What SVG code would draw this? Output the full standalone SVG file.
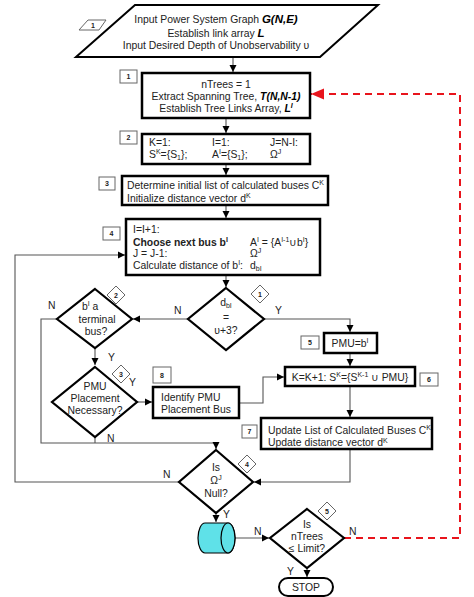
<svg xmlns="http://www.w3.org/2000/svg" width="474" height="597" viewBox="0 0 474 597">
<defs>
<marker id="ah" markerWidth="8" markerHeight="8" refX="7" refY="4" orient="auto" markerUnits="userSpaceOnUse"><path d="M0,0.5 L7,4 L0,7.5 Z" fill="#000"/></marker>
<marker id="ahr" markerWidth="14" markerHeight="12" refX="13" refY="6" orient="auto" markerUnits="userSpaceOnUse"><path d="M0,0.5 L13,6 L0,11.5 Z" fill="#e8141c"/></marker>
<style>
.box{fill:#fff;stroke:#000;stroke-width:2.5}
.dia{fill:#fff;stroke:#000;stroke-width:2.2}
.bd{fill:#fff;stroke:#666;stroke-width:1}
.c{fill:none;stroke:#555;stroke-width:1.1}
.t{font-family:"Liberation Sans",Arial,"DejaVu Sans",sans-serif;font-size:10.4px;fill:#222}
.m{text-anchor:middle}
.b{font-family:"Liberation Sans",Arial,sans-serif;font-size:7px;font-weight:bold;fill:#222;text-anchor:middle}
.bi{font-weight:bold;font-style:italic;fill:#000}
.s{font-size:7px}
</style>
</defs>
<rect width="474" height="597" fill="#fff"/>

<g id="connectors">
<path class="c" d="M233,57 V72" marker-end="url(#ah)"/>
<path class="c" d="M226,118 V133" marker-end="url(#ah)"/>
<path class="c" d="M226,164 V175" marker-end="url(#ah)"/>
<path class="c" d="M226,205 V218" marker-end="url(#ah)"/>
<path class="c" d="M226,275 V287" marker-end="url(#ah)"/>
<path class="c" d="M188,319 H133" marker-end="url(#ah)"/>
<path class="c" d="M264,319 H350 V332" marker-end="url(#ah)"/>
<path class="c" d="M350,353 V366" marker-end="url(#ah)"/>
<path class="c" d="M95,348 V365" marker-end="url(#ah)"/>
<path class="c" d="M137,402 H152" marker-end="url(#ah)"/>
<path class="c" d="M239,403 H263 V377 H284" marker-end="url(#ah)"/>
<path class="c" d="M350,386 V417" marker-end="url(#ah)"/>
<path class="c" d="M350,449 V482 H254" marker-end="url(#ah)"/>
<path class="c" d="M57,319 H41 V443 H216 V449" marker-end="url(#ah)"/>
<path class="c" d="M95,437 V443"/>
<path class="c" d="M179,482 H15 V255 H125" marker-end="url(#ah)"/>
<path class="c" d="M216,512 V522" marker-end="url(#ah)"/>
<path class="c" d="M235,538 H269" marker-end="url(#ah)"/>
<path class="c" d="M307,568 V577" marker-end="url(#ah)"/>
<path d="M344,538 H460 V94 H311" fill="none" stroke="#e8141c" stroke-width="2" stroke-dasharray="7,5" marker-end="url(#ahr)"/>
<text class="t" x="108" y="361">Y</text>
<text class="t" x="48" y="309">N</text>
<text class="t" x="174" y="314">N</text>
<text class="t" x="275" y="314">Y</text>
<text class="t" x="107" y="442">N</text>
<text class="t" x="163" y="478">N</text>
<text class="t" x="223" y="518">Y</text>
<text class="t" x="254" y="535">N</text>
<text class="t" x="349" y="535">N</text>
<text class="t" x="287" y="575">Y</text>
</g>

<g id="input">
<polygon points="135,5 378,5 320,57 76,57" fill="#fff" stroke="#000" stroke-width="2"/>
<polygon class="bd" points="88,20 106,20 99,30 79,30"/>
<text class="b" x="93" y="28">1</text>
<text class="t m" x="216" y="23">Input Power System Graph <tspan class="bi" font-size="11.5">G(N,E)</tspan></text>
<text class="t m" x="216" y="37">Establish link array <tspan class="bi" font-size="11.5">L</tspan></text>
<text class="t m" x="216" y="49">Input Desired Depth of Unobservability υ</text>
</g>

<g id="box1">
<rect class="bd" x="120" y="70" width="17" height="13"/>
<text class="b" x="128.5" y="79">1</text>
<rect class="box" x="142" y="73" width="168" height="45"/>
<text class="t m" x="226" y="88">nTrees = 1</text>
<text class="t m" x="226" y="100">Extract Spanning Tree, <tspan class="bi">T(N,N-1)</tspan></text>
<text class="t m" x="226" y="112">Establish Tree Links Array, <tspan class="bi">L</tspan><tspan class="bi s" dy="-4">I</tspan></text>
</g>

<g id="box2">
<rect class="bd" x="120" y="131" width="17" height="13"/>
<text class="b" x="128.5" y="140">2</text>
<rect class="box" x="142" y="134" width="168" height="30"/>
<text class="t" x="149" y="146">K=1:</text>
<text class="t" x="212" y="146">I=1:</text>
<text class="t" x="270" y="146">J=N-I:</text>
<text class="t" x="149" y="158">S<tspan class="s" dy="-4">K</tspan><tspan dy="4">={S</tspan><tspan class="s" dy="2">1</tspan><tspan dy="-2">};</tspan></text>
<text class="t" x="212" y="158">A<tspan class="s" dy="-4">I</tspan><tspan dy="4">={S</tspan><tspan class="s" dy="2">1</tspan><tspan dy="-2">};</tspan></text>
<text class="t" x="270" y="158">Ω<tspan class="s" dy="-4">J</tspan></text>
</g>

<g id="box3">
<rect class="bd" x="99" y="177" width="16" height="13"/>
<text class="b" x="107" y="186">3</text>
<rect class="box" x="122" y="176" width="206" height="29"/>
<text class="t" x="127" y="189">Determine initial list of calculated buses C<tspan class="s" dy="-4">K</tspan></text>
<text class="t" x="127" y="201.5">Initialize distance vector d<tspan class="s" dy="-3.5">K</tspan></text>
</g>

<g id="box4">
<rect class="bd" x="103" y="227" width="17" height="13"/>
<text class="b" x="111.5" y="236">4</text>
<rect class="box" x="126" y="219" width="194" height="56"/>
<text class="t" x="133" y="233">I=I+1:</text>
<text class="t" x="133" y="245.5" font-weight="bold" fill="#000" font-size="11">Choose next bus b<tspan class="s" dy="-4">I</tspan></text>
<text class="t" x="133" y="257">J = J-1:</text>
<text class="t" x="133" y="268.5">Calculate distance of b<tspan class="s" dy="-4">I</tspan><tspan dy="4">:</tspan></text>
<text class="t" x="250" y="245.5">A<tspan class="s" dy="-4">I</tspan><tspan dy="4"> = {A</tspan><tspan class="s" dy="-4">I-1</tspan><tspan dy="4">∪b</tspan><tspan class="s" dy="-4">I</tspan><tspan dy="4">}</tspan></text>
<text class="t" x="250" y="257">Ω<tspan class="s" dy="-4">J</tspan></text>
<text class="t" x="250" y="268.5">d<tspan class="s" dy="2">bI</tspan></text>
</g>

<g id="dec1">
<polygon class="dia" points="226,288 264,319 226,350 188,319"/>
<polygon class="bd" points="260,285 269,294 260,303 251,294"/>
<text class="b" x="260" y="296.5">1</text>
<text class="t m" x="226" y="306">d<tspan class="s" dy="2">bI</tspan></text>
<text class="t m" x="226" y="321">=</text>
<text class="t m" x="226" y="334">υ+3?</text>
</g>

<g id="dec2">
<polygon class="dia" points="95,289 132,319 95,348 57,319"/>
<polygon class="bd" points="116,286 125,295 116,304 107,295"/>
<text class="b" x="116" y="297.5">2</text>
<text class="t" x="82" y="310">b<tspan class="s" dy="-4">I</tspan><tspan dy="4"> a</tspan></text>
<text class="t m" x="97" y="323">terminal</text>
<text class="t m" x="96" y="335">bus?</text>
</g>

<g id="dec3">
<polygon class="dia" points="95,367 137,402 95,437 52,402"/>
<polygon class="bd" points="121,365 130,374 121,383 112,374"/>
<text class="b" x="121" y="376.5">3</text>
<text class="t" x="129" y="386">Y</text>
<text class="t m" x="95" y="390">PMU</text>
<text class="t m" x="95" y="402">Placement</text>
<text class="t m" x="95" y="414">Necessary?</text>
</g>

<g id="box5">
<rect class="bd" x="301" y="336" width="18" height="13"/>
<text class="b" x="310" y="345">5</text>
<rect class="box" x="324" y="333" width="53" height="20"/>
<text class="t m" x="350" y="347">PMU=b<tspan class="s" dy="-4">I</tspan></text>
</g>

<g id="box6">
<rect class="box" x="285" y="367" width="130" height="19"/>
<rect class="bd" x="420" y="373" width="18" height="13"/>
<text class="b" x="429" y="382">6</text>
<text class="t m" x="350" y="381">K=K+1: S<tspan class="s" dy="-4">K</tspan><tspan dy="4">={S</tspan><tspan class="s" dy="-4">K-1</tspan><tspan dy="4"> ∪ PMU}</tspan></text>
</g>

<g id="box7">
<rect class="bd" x="242" y="425" width="15" height="13"/>
<text class="b" x="249.5" y="434">7</text>
<rect class="box" x="261" y="418" width="171" height="31"/>
<text class="t" x="268" y="434" font-size="10">Update List of Calculated Buses C<tspan class="s" dy="-4">K</tspan></text>
<text class="t" x="268" y="446" font-size="10">Update distance vector d<tspan class="s" dy="-3.5">K</tspan></text>
</g>

<g id="box8">
<rect class="bd" x="153" y="367" width="18" height="16"/>
<text class="b" x="162" y="378">8</text>
<rect class="box" x="153" y="387" width="86" height="31"/>
<text class="t" x="161" y="401">Identify PMU</text>
<text class="t" x="161" y="413">Placement Bus</text>
</g>

<g id="dec4">
<polygon class="dia" points="216,450 253,482 216,513 179,482"/>
<polygon class="bd" points="247,455 256,464 247,473 238,464"/>
<text class="b" x="247" y="466.5">4</text>
<text class="t m" x="216" y="471">Is</text>
<text class="t m" x="216" y="484">Ω<tspan class="s" dy="-4">J</tspan></text>
<text class="t m" x="216" y="497">Null?</text>
</g>

<g id="store">
<path d="M205,523 H228 A7,15 0 0 1 228,553 H205 A7,15 0 0 1 205,523 Z" fill="#5fe1e8" stroke="#000" stroke-width="1.2"/>
<ellipse cx="228" cy="538" rx="7" ry="15" fill="#5fe1e8" stroke="#000" stroke-width="1.2"/>
</g>

<g id="dec5">
<polygon class="dia" points="307,509 344,538 307,568 270,538"/>
<polygon class="bd" points="327,502 336,511 327,520 318,511"/>
<text class="b" x="327" y="513.5">5</text>
<text class="t m" x="307" y="528">Is</text>
<text class="t m" x="307" y="540">nTrees</text>
<text class="t m" x="307" y="552">≤ Limit?</text>
</g>

<g id="stop">
<rect x="279" y="578" width="54" height="18" rx="9" fill="#fff" stroke="#000" stroke-width="2"/>
<text class="t m" x="306" y="591">STOP</text>
</g>
</svg>
